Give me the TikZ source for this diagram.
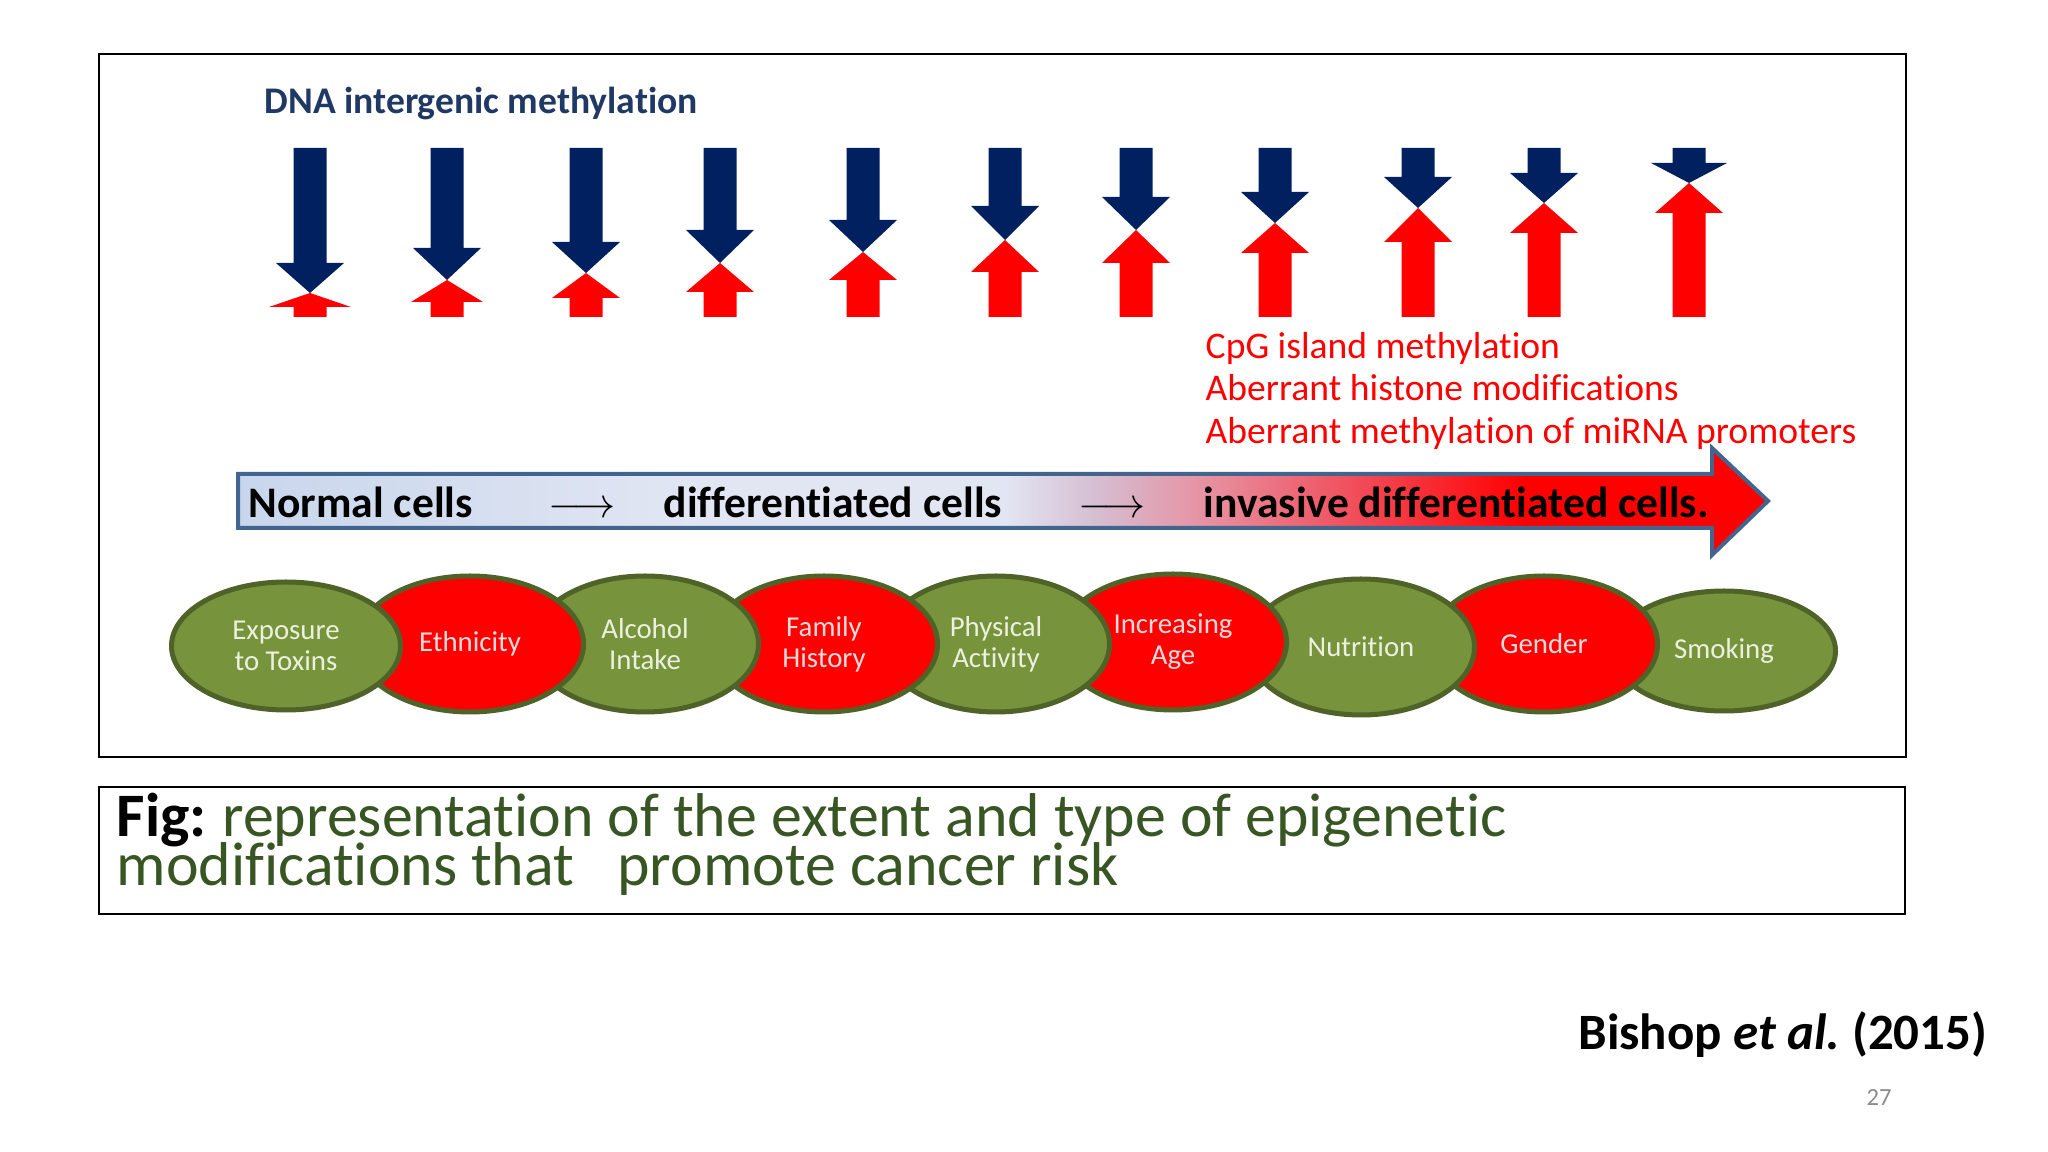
\documentclass[tikz,border=0pt]{standalone}
\usepackage{fontspec}
\setmainfont{Carlito}[Ligatures=NoCommon]
\usetikzlibrary{shapes.geometric}
\definecolor{epiNavy}{RGB}{0,32,96}
\definecolor{epiTitle}{RGB}{31,56,100}
\definecolor{epiRed}{RGB}{255,0,0}
\definecolor{epiGreen}{RGB}{119,147,60}
\definecolor{epiGreenLine}{RGB}{79,98,40}
\definecolor{epiGreenText}{RGB}{235,241,222}
\definecolor{epiPinkText}{RGB}{242,220,219}
\definecolor{epiBarLine}{RGB}{65,101,143}
\definecolor{epiBarBlue}{RGB}{200,214,236}
\definecolor{epiBarPale}{RGB}{226,230,243}
\definecolor{epiBarMauve}{RGB}{214,190,210}
\definecolor{epiBarPink}{RGB}{232,140,156}
\definecolor{epiBarRose}{RGB}{242,70,82}
\definecolor{epiCaptionGreen}{RGB}{55,86,35}
\definecolor{epiPageGray}{RGB}{140,140,140}
\pgfdeclarehorizontalshading{epiBarShading}{100bp}{color(0bp)=(epiBarBlue); color(25bp)=(epiBarBlue); color(40bp)=(epiBarPale); color(50bp)=(epiBarPale); color(53bp)=(epiBarMauve); color(57bp)=(epiBarPink); color(62bp)=(epiBarRose); color(67bp)=(epiRed); color(100bp)=(epiRed)}
\tikzset{
  epiDownArrow/.style={fill=epiNavy},
  epiUpArrow/.style={fill=epiRed},
  epiFactor/.style={draw=epiGreenLine, line width=0.5mm, ellipse, inner sep=0pt, minimum width=22.7mm, minimum height=13.6mm, align=center, font=\fontsize{8.2}{8.8}\selectfont},
  epiGreenFactor/.style={epiFactor, fill=epiGreen, text=epiGreenText},
  epiRedFactor/.style={epiFactor, fill=epiRed, text=epiPinkText},
  epiStage/.style={anchor=base west, inner sep=0pt, font=\fontsize{12.4}{14}\selectfont\bfseries},
  epiStageArrow/.style={anchor=base, inner sep=0pt, font=\fontsize{12.4}{14}\selectfont},
  epiNote/.style={anchor=base west, inner sep=0pt, text=epiRed, font=\fontsize{10.7}{12}\selectfont},
  epiCaption/.style={anchor=base west, inner sep=0pt, text=epiCaptionGreen, font=\fontsize{17.6}{20}\selectfont},
  epiFrame/.style={draw=black, line width=0.25mm}
}
\begin{document}
\begin{tikzpicture}[x=0.1mm, y=-0.1mm]
  \useasboundingbox[fill=white] (0,0) rectangle (2048,1152);
  \draw[epiFrame] (99,54) rectangle (1906,757);
  \node[anchor=base west, inner sep=0pt, text=epiTitle, font=\fontsize{10.7}{12}\selectfont\bfseries] (title) at (264,114) {DNA intergenic methylation};
  \foreach \x/\db/\tp/\ub/\hd/\hu in {310/263/293/307/34/41, 447/248/280/302/34/36, 586/242/273/298/34/34, 720/230/263/292/34/34, 863/220/252/280/34/34, 1005/206/240/272/34/34, 1136/197/230/263/34/34, 1275/192/223/253/34/34, 1418/177/208/242/34/34, 1544/173/203/233/34/34, 1689/163/183/213/38/34}{
    \fill[epiDownArrow] ({\x-16.5},148) -- ({\x+16.5},148) -- ({\x+16.5},\db) -- ({\x+\hd},\db) -- (\x,\tp) -- ({\x-\hd},\db) -- ({\x-16.5},\db) -- cycle;
    \fill[epiUpArrow] ({\x-16.5},317) -- ({\x+16.5},317) -- ({\x+16.5},\ub) -- ({\x+\hu},\ub) -- (\x,\tp) -- ({\x-\hu},\ub) -- ({\x-16.5},\ub) -- cycle;
  }
  \node[epiNote] (cpg) at (1205,359) {CpG island methylation};
  \node[epiNote] (histone) at (1205,401) {Aberrant histone modifications};
  \node[epiNote] (mirna) at (1205,444) {Aberrant methylation of miRNA promoters};
  \shadedraw[shading=epiBarShading, draw=epiBarLine, line width=0.4mm, line join=miter] (238,474) -- (1712,474) -- (1712,448) -- (1768,501) -- (1712,555) -- (1712,528) -- (238,528) -- cycle;
  \node[epiStage] (normal) at (248,518) {Normal cells};
  \node[epiStageArrow] (toDiff) at (582,518) {$\longrightarrow$};
  \node[epiStage] (diff) at (663,518) {differentiated cells};
  \node[epiStageArrow] (toInvasive) at (1112,518) {$\longrightarrow$};
  \node[epiStage] (invasive) at (1203,518) {invasive differentiated cells.};
  \node[epiGreenFactor, minimum width=22.3mm, minimum height=12mm] (smoking) at (1724,651) {Smoking};
  \node[epiRedFactor] (gender) at (1544,644) {Gender};
  \node[epiGreenFactor] (nutrition) at (1361,647) {Nutrition};
  \node[epiRedFactor] (age) at (1173,642) {Increasing\\Age};
  \node[epiGreenFactor] (activity) at (996,644) {Physical\\Activity};
  \node[epiRedFactor] (family) at (824,644) {Family\\History};
  \node[epiGreenFactor] (alcohol) at (645,644) {Alcohol\\Intake};
  \node[epiRedFactor] (ethnicity) at (470,644) {Ethnicity};
  \node[epiGreenFactor, minimum width=22.9mm, minimum height=12.8mm] (toxins) at (286,646) {Exposure\\to Toxins};
  \draw[epiFrame, line width=0.15mm] (99,787) rectangle (1905,914);
  \node[epiCaption] (figLineA) at (116,837) {\textcolor{black}{\textbf{Fig:}}\hspace{-0.05em} representation of the extent and type of epigenetic};
  \node[epiCaption] (figLineB) at (116,886) {modifications that\hspace{0.7em}promote cancer risk};
  \node[anchor=base east, inner sep=0pt, font=\fontsize{14.5}{17}\selectfont\bfseries] (source) at (1988,1050) {Bishop {\itshape et al.}\hspace{-0.07em} (2015)};
  \node[anchor=base, inner sep=0pt, text=epiPageGray, font=\fontsize{7}{8}\selectfont] (page) at (1879,1106) {27};
\end{tikzpicture}
\end{document}
